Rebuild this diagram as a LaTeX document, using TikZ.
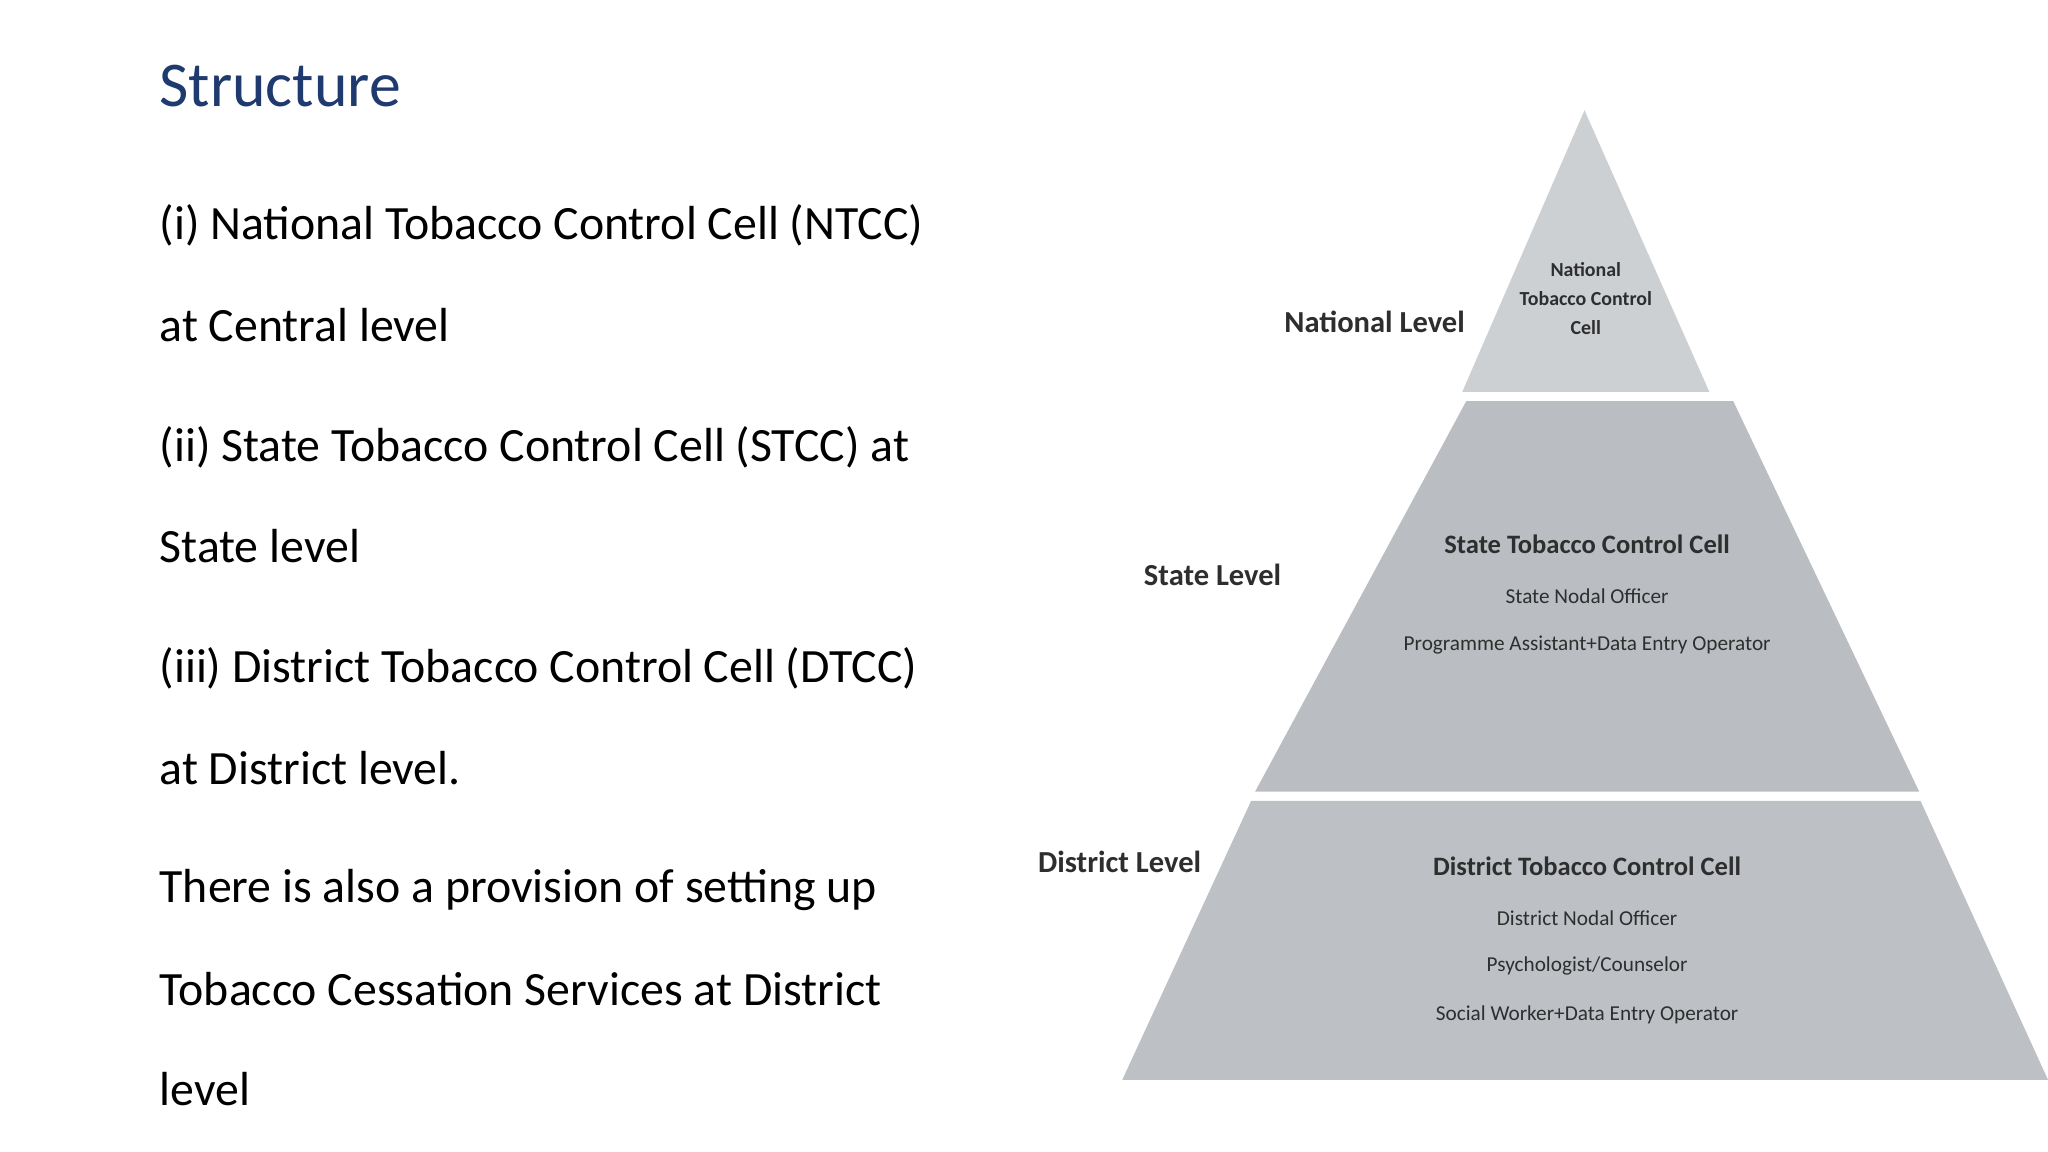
\documentclass[tikz,border=0pt]{standalone}
\usepackage{fontspec}
\setmainfont{Carlito}
\definecolor{titleblue}{HTML}{1F3A6E}
\definecolor{natc}{HTML}{CDD0D3}
\definecolor{statc}{HTML}{BABEC2}
\definecolor{distc}{HTML}{BDC1C5}
\definecolor{ptxt}{HTML}{2E2E2E}
\begin{document}
\begin{tikzpicture}[x=1pt,y=-1pt,
  body/.style={anchor=west,font=\fontsize{36}{40}\selectfont,text=black,inner sep=0},
  lvl/.style={font=\bfseries\fontsize{23}{26}\selectfont,text=ptxt,inner sep=0},
  inn/.style={font=\fontsize{16}{19}\selectfont,text=ptxt,inner sep=0,align=center},
  innb/.style={font=\bfseries\fontsize{20}{23}\selectfont,text=ptxt,inner sep=0}]
\useasboundingbox[fill=white] (0,0) rectangle (1542,867);
\node[anchor=west,inner sep=0,text=titleblue,font=\fontsize{48}{52}\selectfont] (title) at (120,65) {Structure};
\node[body] (l1) at (120,170) {(i) National Tobacco Control Cell (NTCC)};
\node[body] (l2) at (120,245) {at Central level};
\node[body] (l3) at (120,337) {(ii) State Tobacco Control Cell (STCC) at};
\node[body] (l4) at (120,411) {State level};
\node[body] (l5) at (120,503) {(iii) District Tobacco Control Cell (DTCC)};
\node[body] (l6) at (120,578) {at District level.};
\node[body] (l7) at (120,670) {There is also a provision of setting up};
\node[body] (l8) at (120,745) {Tobacco Cessation Services at District};
\node[body] (l9) at (120,820) {level};
% pyramid
\fill[natc] (1193,83) -- (1287,295) -- (1101,295) -- cycle;
\fill[statc] (1104,302) -- (1305,302) -- (1445,596) -- (945,596) -- cycle;
\fill[distc] (942,603) -- (1446,603) -- (1542,813) -- (845,813) -- cycle;
\node[lvl] (nl) at (1035,242) {National Level};
\node[lvl] (sl) at (913,433) {State Level};
\node[lvl] (dl) at (843,649) {District Level};
\node[inn,font=\bfseries\fontsize{15}{22}\selectfont] (nt) at (1194,225) {National\\Tobacco Control\\Cell};
\node[innb] (st) at (1195,410) {State Tobacco Control Cell};
\node[inn] (s1) at (1195,449) {State Nodal Officer};
\node[inn] (s2) at (1195,486) {Programme Assistant+Data Entry Operator};
\node[innb] (dt) at (1195,652) {District Tobacco Control Cell};
\node[inn] (d1) at (1195,691) {District Nodal Officer};
\node[inn] (d2) at (1195,727) {Psychologist/Counselor};
\node[inn] (d3) at (1195,764) {Social Worker+Data Entry Operator};
\end{tikzpicture}
\end{document}
